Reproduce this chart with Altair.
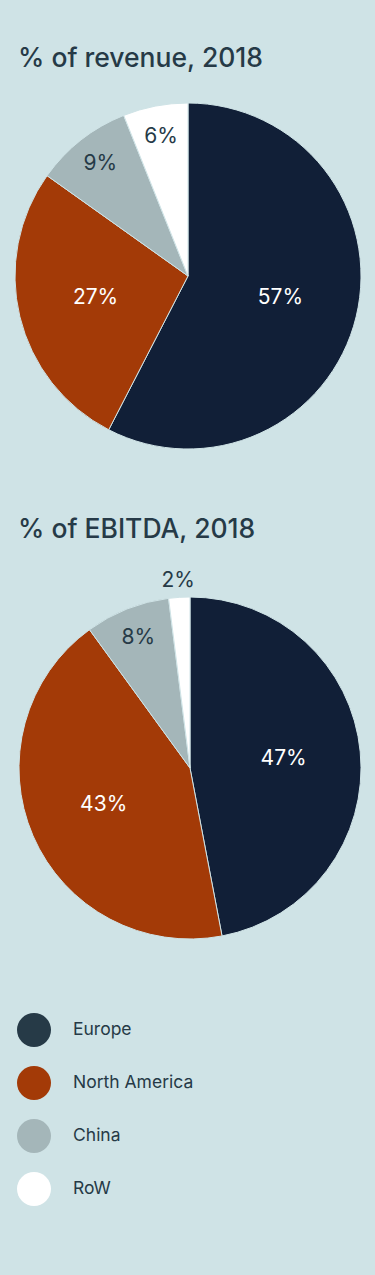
import altair as alt
import pandas as pd

regions = ["Europe", "North America", "China", "RoW"]
revenue_pct = [57, 27, 9, 6]
ebitda_pct = [47, 43, 8, 2]
titles = ["% of revenue, 2018", "% of EBITDA, 2018"]

pie_colors = ["#111f37", "#a33a07", "#a4b6b9", "#ffffff"]
legend_colors = ["#263a47", "#a33a07", "#a4b6b9", "#ffffff"]
BG = "#cfe3e6"
INK = "#263a47"
FONT = "Inter"


def pie(values, title, cx, cy, R, ty):
    df = pd.DataFrame({"region": regions, "value": values, "order": list(range(len(regions)))})
    base = (
        alt.Chart(df)
        .transform_joinaggregate(total="sum(value)")
        .transform_window(cum="sum(value)", sort=[alt.SortField("order")])
        .transform_calculate(
            t1="(datum.cum - datum.value) / datum.total * 2 * PI",
            t2="datum.cum / datum.total * 2 * PI",
            tm="(datum.cum - datum.value / 2) / datum.total * 2 * PI",
            lr=f"datum.value >= 20 ? {R * 0.55} : datum.value >= 5 ? {R * 0.82} : {R + 16}",
            label="datum.value + '%'",
        )
    )
    arcs = base.mark_arc(outerRadius=R, stroke=BG, strokeWidth=1).encode(
        theta=alt.Theta("t1:Q", scale=None),
        theta2="t2:Q",
        fill=alt.Fill("region:N", scale=alt.Scale(domain=regions, range=pie_colors), legend=None),
        x=alt.value(cx),
        y=alt.value(cy),
    )
    labels = base.mark_text(font=FONT, fontSize=21, align="center", baseline="middle").encode(
        theta=alt.Theta("tm:Q", scale=None),
        radius=alt.Radius("lr:Q", scale=None),
        text="label:N",
        color=alt.when("datum.value >= 20").then(alt.value("white")).otherwise(alt.value(INK)),
        x=alt.value(cx),
        y=alt.value(cy),
    )
    head = alt.Chart(pd.DataFrame({"t": [title]})).mark_text(
        font=FONT, fontSize=26.5, fontWeight=500, align="left", baseline="alphabetic", color=INK
    ).encode(text="t:N", x=alt.value(18), y=alt.value(ty))
    return alt.layer(arcs, labels, head)


pie1 = pie(revenue_pct, titles[0], 188, 276, 173, 67)
pie2 = pie(ebitda_pct, titles[1], 190, 768, 171, 538)

legend_layer = alt.Chart(pd.DataFrame({"region": regions})).mark_point(
    filled=True, shape="circle", opacity=1, size=10
).encode(
    color=alt.Color(
        "region:N",
        scale=alt.Scale(domain=regions, range=legend_colors),
        legend=alt.Legend(
            orient="none",
            legendX=17,
            legendY=1013,
            title=None,
            symbolType="circle",
            symbolSize=1156,
            symbolOpacity=1,
            symbolStrokeWidth=0,
            labelFont=FONT,
            labelFontSize=17.5,
            labelColor=INK,
            labelOffset=22,
            rowPadding=19,
            padding=0,
        ),
    ),
    x=alt.value(-200),
    y=alt.value(-200),
)

chart = (
    alt.layer(legend_layer, pie1, pie2)
    .properties(width=375, height=1275, padding=0, autosize="none", background=BG)
    .configure_view(stroke=None)
)

chart.save("out.html", embed_options={"renderer": "svg", "actions": False})
